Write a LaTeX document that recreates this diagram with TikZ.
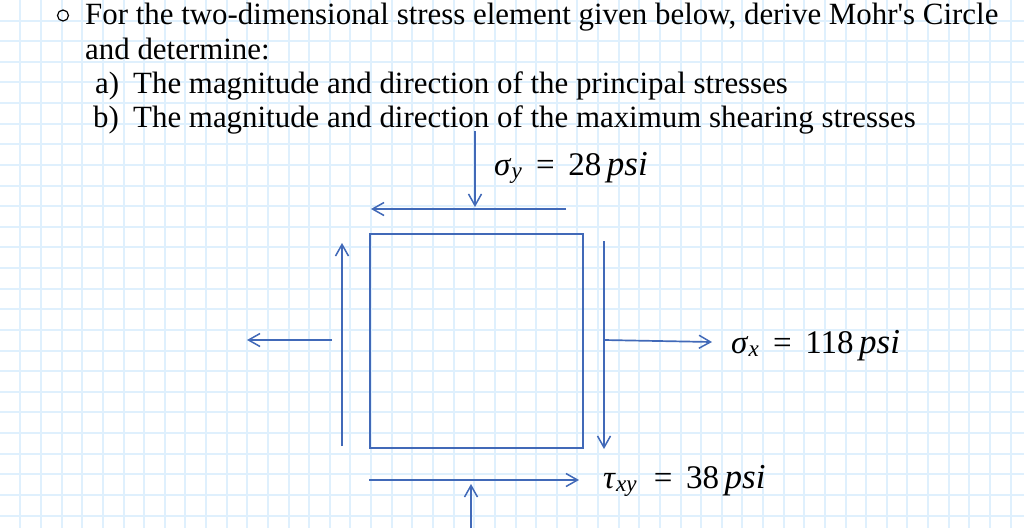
\documentclass[tikz,border=0pt]{standalone}
\usepackage{fontspec}
\setmainfont{Liberation Serif}
\usetikzlibrary{arrows.meta}

\definecolor{gridblue}{HTML}{DFF0FD}
\definecolor{forceblue}{HTML}{4169B8}

\newcommand{\unitpsi}{{\fontsize{35}{34}\selectfont\textit{psi}}}

\tikzset{
    gridline/.style = {draw=gridblue, line width=2pt},
    force/.style = {draw=forceblue, line width=1.7pt, -{Straight Barb[length=11.5pt,width=13pt,line width=1.5pt]}},
    question/.style = {anchor=base west, inner sep=0pt, font=\fontsize{30.9}{34}\selectfont},
    value/.style = {anchor=base west, inner sep=0pt, font=\fontsize{33}{34}\selectfont},
}

\begin{document}
\begin{tikzpicture}[x=1pt,y=-1pt]
    \useasboundingbox (0,0) rectangle (1024,528);
    \fill[white] (0,0) rectangle (1024,528);

    % paper
    \foreach \i in {0,...,48} {
        \pgfmathsetmacro{\gridx}{round(19.4+20.63*\i)+0.5}
        \draw[gridline] (\gridx,0) -- (\gridx,528);
    }
    \foreach \i in {0,...,24} {
        \pgfmathsetmacro{\gridy}{round(19.5+20.63*\i)+0.5}
        \draw[gridline] (0,\gridy) -- (1024,\gridy);
    }

    % question
    \node (bullet) at (63,15.5) [circle, draw=black, line width=1.2pt, minimum size=11pt, inner sep=0pt] {};
    \node (line1) at (85,24.5) [question] {For the two-dimensional stress element given below, derive Mohr\textquotesingle s Circle};
    \node (line2) at (85,59) [question] {and determine:};
    \node (parta) at (95,93.5) [question] {a)};
    \node (parttexta) at (133,93.5) [question] {The magnitude and direction of the principal stresses};
    \node (partb) at (93,127.7) [question] {b)};
    \node (parttextb) at (133,127.7) [question] {The magnitude and direction of the maximum shearing stresses};

    % element
    \node (element) at (476,340.5) [draw=forceblue, line width=2pt, minimum width=213pt, minimum height=214pt, inner sep=0pt] {};

    \coordinate (topstart) at (475,131);
    \coordinate (topend) at (475,207);
    \coordinate (topshearstart) at (566,209);
    \coordinate (topshearend) at (371,209);
    \coordinate (rightshearstart) at (604,241);
    \coordinate (rightshearend) at (604,449);
    \coordinate (rightstart) at (604,340);
    \coordinate (rightend) at (712,342);
    \coordinate (leftshearstart) at (342,446);
    \coordinate (leftshearend) at (342,243);
    \coordinate (leftstart) at (332,340);
    \coordinate (leftend) at (247,340);
    \coordinate (bottomshearstart) at (369,480);
    \coordinate (bottomshearend) at (579,480);
    \coordinate (bottomstart) at (471,528);
    \coordinate (bottomend) at (471,484);

    \draw[force] (topstart) -- (topend);
    \draw[force] (topshearstart) -- (topshearend);
    \draw[force] (rightshearstart) -- (rightshearend);
    \draw[force] (rightstart) -- (rightend);
    \draw[force] (leftshearstart) -- (leftshearend);
    \draw[force] (leftstart) -- (leftend);
    \draw[force] (bottomshearstart) -- (bottomshearend);
    \draw[force] (bottomstart) -- (bottomend);

    % values
    \node (sigmay) at (494,175) [value] {\textit{σ}\textsubscript{\textit{y}}\, = \,28\,\unitpsi};
    \node (sigmax) at (731,353) [value] {\textit{σ}\textsubscript{\textit{x}}\, = \,118\,\unitpsi};
    \node (tauxy) at (603,488) [value] {\textit{τ}\textsubscript{\textit{xy}}\hspace{3pt}\, = \,38\,\unitpsi};
\end{tikzpicture}
\end{document}
